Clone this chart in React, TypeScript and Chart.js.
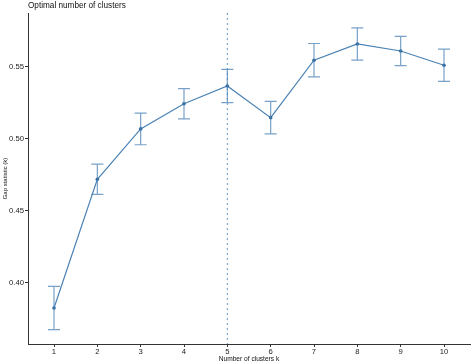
import React, { useEffect, useRef } from "react";
import { Chart, registerables } from "chart.js";

Chart.register(...registerables);

const kValues = [1, 2, 3, 4, 5, 6, 7, 8, 9, 10];
const gapValues = [0.3826, 0.472, 0.507, 0.5245, 0.5368, 0.5148, 0.5547, 0.566, 0.5611, 0.5512];
const seValues = [0.015, 0.0105, 0.011, 0.0105, 0.0115, 0.0113, 0.0116, 0.0112, 0.0102, 0.0112];
const yTickValues = [0.4, 0.45, 0.5, 0.55];
const optimalK = 5;
const titleText = "Optimal number of clusters";
const xTitleText = "Number of clusters k";
const yTitleText = "Gap statistic (k)";

const LINE = "#4a82b4";
const ERR = "rgba(74,130,180,0.75)";
const AXIS = "#333333";
const FONT = "'Liberation Sans', Arial, sans-serif";

const errorBarPlugin = {
  id: "errorBars",
  afterDatasetsDraw(chart: any) {
    const { ctx, scales } = chart;
    const xs = scales.x;
    const ys = scales.y;
    ctx.save();
    const ox = xs.getPixelForValue(optimalK);
    ctx.strokeStyle = "rgba(74,130,180,0.85)";
    ctx.lineWidth = 1;
    ctx.setLineDash([2, 3]);
    ctx.beginPath();
    ctx.moveTo(ox, chart.chartArea.top);
    ctx.lineTo(ox, chart.chartArea.bottom);
    ctx.stroke();
    ctx.setLineDash([]);
    ctx.strokeStyle = ERR;
    ctx.lineWidth = 1.2;
    kValues.forEach((k, i) => {
      const x = xs.getPixelForValue(k);
      const yt = ys.getPixelForValue(gapValues[i] + seValues[i]);
      const yb = ys.getPixelForValue(gapValues[i] - seValues[i]);
      ctx.beginPath();
      ctx.moveTo(x, yt);
      ctx.lineTo(x, yb);
      ctx.moveTo(x - 6, yt);
      ctx.lineTo(x + 6, yt);
      ctx.moveTo(x - 6, yb);
      ctx.lineTo(x + 6, yb);
      ctx.stroke();
    });
    ctx.restore();
  },
  afterDraw(chart: any) {
    const { ctx, chartArea } = chart;
    ctx.save();
    ctx.fillStyle = "#111";
    ctx.textBaseline = "middle";
    ctx.textAlign = "left";
    ctx.font = `8.2px ${FONT}`;
    ctx.fillText(titleText, chartArea.left, 6);
    ctx.textAlign = "center";
    ctx.font = `6.6px ${FONT}`;
    ctx.fillText(xTitleText, (chartArea.left + chartArea.right) / 2, 359);
    ctx.translate(5.5, (chartArea.top + chartArea.bottom) / 2);
    ctx.rotate(-Math.PI / 2);
    ctx.font = `6px ${FONT}`;
    ctx.fillText(yTitleText, 0, 0);
    ctx.restore();
  },
};

export default function App() {
  const ref = useRef<HTMLCanvasElement | null>(null);
  useEffect(() => {
    document.body.style.margin = "0";
    const chart = new Chart(ref.current as HTMLCanvasElement, {
      type: "line",
      data: {
        datasets: [
          {
            data: kValues.map((k, i) => ({ x: k, y: gapValues[i] })),
            borderColor: LINE,
            backgroundColor: LINE,
            borderWidth: 1.2,
            pointRadius: 1.8,
            pointBackgroundColor: "#2f6a9c",
            pointBorderWidth: 0,
            tension: 0,
          },
        ],
      },
      options: {
        responsive: false,
        animation: false,
        layout: { padding: { top: 13, right: 2, left: 0, bottom: 0 } },
        plugins: { legend: { display: false }, tooltip: { enabled: false }, title: { display: false } },
        scales: {
          x: {
            type: "linear",
            min: 0.4,
            max: 10.6,
            afterBuildTicks: (s: any) => {
              s.ticks = kValues.map((v) => ({ value: v }));
            },
            afterFit: (s: any) => {
              s.height = 20;
            },
            ticks: {
              color: "#222",
              font: { family: FONT, size: 7.7 },
              padding: 0,
              maxRotation: 0,
              callback: (v: any) => String(v),
            },
            grid: { drawOnChartArea: false, drawTicks: true, tickLength: 3, color: AXIS },
            border: { display: true, color: AXIS, width: 1 },
          },
          y: {
            type: "linear",
            min: 0.3576,
            max: 0.5875,
            afterBuildTicks: (s: any) => {
              s.ticks = yTickValues.map((v) => ({ value: v }));
            },
            afterFit: (s: any) => {
              s.width = 28;
            },
            ticks: {
              color: "#222",
              font: { family: FONT, size: 7.7 },
              padding: 1,
              callback: (v: any) => Number(v).toFixed(2),
            },
            grid: { drawOnChartArea: false, drawTicks: true, tickLength: 3, color: AXIS },
            border: { display: true, color: AXIS, width: 1 },
          },
        },
      },
      plugins: [errorBarPlugin],
    } as any);
    return () => chart.destroy();
  }, []);
  return <canvas ref={ref} width={474} height={364} style={{ display: "block" }} />;
}
